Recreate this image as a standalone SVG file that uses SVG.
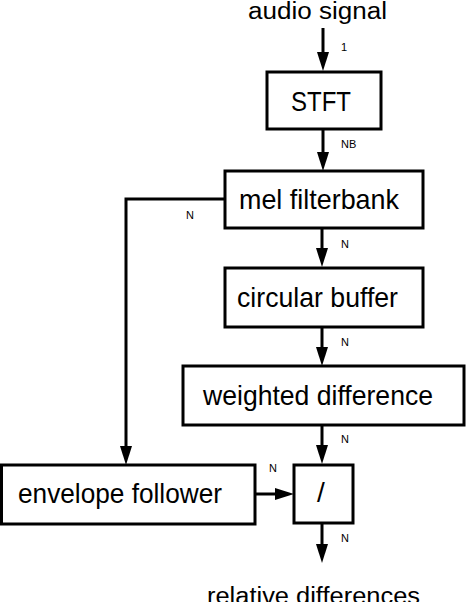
<svg xmlns="http://www.w3.org/2000/svg" width="466" height="602" viewBox="0 0 466 602">
<style>
.box{fill:#fff;stroke:#000;stroke-width:3}
.big{font-family:"Liberation Sans",Arial,sans-serif;font-size:28px;fill:#000}
.io{font-family:"Liberation Sans",Arial,sans-serif;font-size:23px;fill:#000}
.lbl{font-family:"Liberation Sans",Arial,sans-serif;font-size:11px;fill:#000}
.wire{fill:none;stroke:#000;stroke-width:3}
</style>
<defs>
<marker id="arr" markerUnits="userSpaceOnUse" markerWidth="20" markerHeight="13" refX="0" refY="6" orient="auto">
<path d="M0,0 L19,6 L0,12 Z" fill="#000"/>
</marker>
</defs>
<rect width="466" height="602" fill="#fff"/>
<g id="connectors">
<line class="wire" x1="323" y1="28" x2="323" y2="52" marker-end="url(#arr)"/>
<line class="wire" x1="323" y1="129" x2="323" y2="152" marker-end="url(#arr)"/>
<line class="wire" x1="322" y1="228" x2="322" y2="248" marker-end="url(#arr)"/>
<line class="wire" x1="322" y1="327" x2="322" y2="347" marker-end="url(#arr)"/>
<line class="wire" x1="322" y1="425" x2="322" y2="445" marker-end="url(#arr)"/>
<path class="wire" d="M225,199 H126 V446" marker-end="url(#arr)"/>
<line class="wire" x1="255" y1="494" x2="275" y2="494" marker-end="url(#arr)"/>
<line class="wire" x1="322" y1="523" x2="322" y2="544" marker-end="url(#arr)"/>
<text class="lbl" x="341" y="51">1</text>
<text class="lbl" x="341" y="148">NB</text>
<text class="lbl" x="186" y="219">N</text>
<text class="lbl" x="341" y="248">N</text>
<text class="lbl" x="341" y="346">N</text>
<text class="lbl" x="341" y="443">N</text>
<text class="lbl" x="269" y="472">N</text>
<text class="lbl" x="341" y="542">N</text>
</g>
<g id="input"><text class="io" x="248" y="19" textLength="139" lengthAdjust="spacingAndGlyphs">audio signal</text></g>
<g id="stft"><rect class="box" x="267" y="72" width="114" height="57"/><text class="big" x="291" y="111" textLength="60" lengthAdjust="spacingAndGlyphs">STFT</text></g>
<g id="mel"><rect class="box" x="225" y="171" width="198" height="57"/><text class="big" x="239" y="209" textLength="160" lengthAdjust="spacingAndGlyphs">mel filterbank</text></g>
<g id="buffer"><rect class="box" x="225" y="268" width="198" height="59"/><text class="big" x="237" y="307" textLength="161" lengthAdjust="spacingAndGlyphs">circular buffer</text></g>
<g id="wdiff"><rect class="box" x="183" y="366" width="281" height="59"/><text class="big" x="203" y="405" textLength="230" lengthAdjust="spacingAndGlyphs">weighted difference</text></g>
<g id="div"><rect class="box" x="294" y="465" width="59" height="58"/><text class="big" x="317" y="502">/</text></g>
<g id="env"><rect class="box" x="1.5" y="465" width="253.5" height="59"/><text class="big" x="18" y="503" textLength="204" lengthAdjust="spacingAndGlyphs">envelope follower</text></g>
<g id="output"><text class="io" x="207" y="604" textLength="213" lengthAdjust="spacingAndGlyphs">relative differences</text></g>
</svg>
